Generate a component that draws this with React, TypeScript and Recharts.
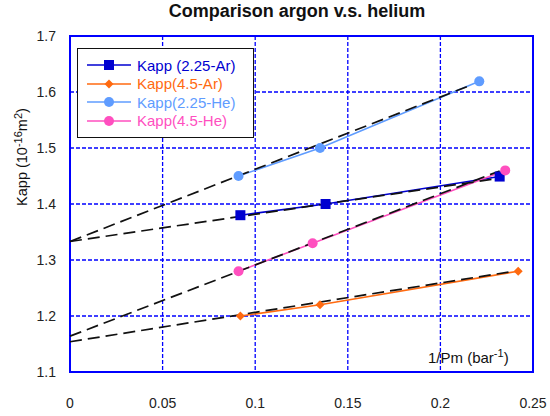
import React from "react";
import {
  ComposedChart,
  Line,
  XAxis,
  YAxis,
  CartesianGrid,
  ReferenceArea,
} from "recharts";

// ---- data ----
const xTicks = [0, 0.05, 0.1, 0.15, 0.2, 0.25];
const yTicks = [1.1, 1.2, 1.3, 1.4, 1.5, 1.6, 1.7];

const ar225X = [0.092, 0.138, 0.232];
const ar225Y = [1.38, 1.4, 1.449];
const ar45X = [0.092, 0.135, 0.242];
const ar45Y = [1.2, 1.22, 1.28];
const he225X = [0.091, 0.135, 0.221];
const he225Y = [1.45, 1.5, 1.619];
const he45X = [0.091, 0.131, 0.235];
const he45Y = [1.28, 1.33, 1.46];

const fitHe225X = [0, 0.217];
const fitHe225Y = [1.333, 1.613];
const fitAr225X = [0, 0.232];
const fitAr225Y = [1.333, 1.446];
const fitHe45X = [0, 0.232];
const fitHe45Y = [1.164, 1.459];
const fitAr45X = [0, 0.238];
const fitAr45Y = [1.154, 1.279];

const toPts = (xs: number[], ys: number[]) => xs.map((x, i) => ({ x, y: ys[i] }));

const C_AR225 = "#0000d0";
const C_AR45 = "#ff6a10";
const C_HE225 = "#5f9cff";
const C_HE45 = "#ff4fbf";
const FONT = "'Liberation Sans', Arial, sans-serif";

type Shape = "square" | "diamond" | "circle";

const drawMarker = (shape: Shape, color: string, cx: number, cy: number, key?: any) => {
  if (shape === "square")
    return <rect key={key} x={cx - 5} y={cy - 5} width={10} height={10} fill={color} />;
  if (shape === "diamond")
    return (
      <polygon
        key={key}
        points={`${cx},${cy - 4.5} ${cx + 4.5},${cy} ${cx},${cy + 4.5} ${cx - 4.5},${cy}`}
        fill={color}
      />
    );
  return <circle key={key} cx={cx} cy={cy} r={5} fill={color} />;
};

const series = [
  { name: "Kapp (2.25-Ar)", color: C_AR225, shape: "square" as Shape, data: toPts(ar225X, ar225Y) },
  { name: "Kapp(4.5-Ar)", color: C_AR45, shape: "diamond" as Shape, data: toPts(ar45X, ar45Y) },
  { name: "Kapp(2.25-He)", color: C_HE225, shape: "circle" as Shape, data: toPts(he225X, he225Y) },
  { name: "Kapp(4.5-He)", color: C_HE45, shape: "circle" as Shape, data: toPts(he45X, he45Y) },
];

const fits = [
  toPts(fitHe225X, fitHe225Y),
  toPts(fitAr225X, fitAr225Y),
  toPts(fitHe45X, fitHe45Y),
  toPts(fitAr45X, fitAr45Y),
];

export default function App() {
  return (
    <div style={{ position: "absolute", left: 0, top: 0, width: 550, height: 416, background: "#fff", fontFamily: FONT }}>
      <ComposedChart width={550} height={416} margin={{ top: 36, right: 17, bottom: 0, left: 30 }}>
        <CartesianGrid stroke="#0000ff" strokeDasharray="4 2" strokeWidth={1.3} horizontalValues={yTicks} verticalValues={xTicks} />
        <XAxis
          dataKey="x"
          type="number"
          domain={[0, 0.25]}
          ticks={xTicks}
          allowDuplicatedCategory={false}
          height={44}
          tickSize={0}
          tickLine={false}
          tickMargin={26}
          axisLine={false}
          tick={{ fill: "#222", fontSize: 14, fontFamily: FONT }}
        />
        <YAxis
          type="number"
          domain={[1.1, 1.7]}
          ticks={yTicks}
          width={40}
          tickSize={0}
          tickLine={false}
          tickMargin={14}
          axisLine={false}
          tick={{ fill: "#222", fontSize: 14, fontFamily: FONT }}
        />
        <ReferenceArea x1={0} x2={0.25} y1={1.1} y2={1.7} fill="none" stroke="#0000ff" strokeWidth={2} fillOpacity={0} />
        {series.map((s) => (
          <Line
            key={s.name}
            data={s.data}
            dataKey="y"
            name={s.name}
            stroke={s.color}
            strokeWidth={1.6}
            isAnimationActive={false}
            dot={(p: any) => drawMarker(s.shape, s.color, p.cx, p.cy, `${s.name}-${p.index}`)}
            activeDot={false}
          />
        ))}
        {fits.map((f, i) => (
          <Line
            key={"fit" + i}
            data={f}
            dataKey="y"
            stroke="#111"
            strokeWidth={1.7}
            strokeDasharray="12 6"
            dot={false}
            activeDot={false}
            legendType="none"
            isAnimationActive={false}
          />
        ))}
      </ComposedChart>

      {/* title */}
      <div style={{ position: "absolute", left: 0, width: 594, top: 1, textAlign: "center", fontWeight: "bold", fontSize: 18, color: "#111" }}>
        Comparison argon v.s. helium
      </div>

      {/* y label */}
      <div
        style={{
          position: "absolute",
          left: 21,
          top: 157,
          transform: "translate(-50%, -50%) rotate(-90deg)",
          whiteSpace: "nowrap",
          fontSize: 14.5,
          color: "#111",
        }}
      >
        Kapp (10<sup style={{ fontSize: 11 }}>-16</sup>m<sup style={{ fontSize: 11 }}>2</sup>)
      </div>

      {/* x label */}
      <div style={{ position: "absolute", left: 428, top: 347, whiteSpace: "nowrap", fontSize: 15, color: "#111" }}>
        1/Pm (bar<sup style={{ fontSize: 11 }}>-1</sup>)
      </div>

      {/* legend */}
      <div
        style={{
          position: "absolute",
          left: 77,
          top: 48,
          width: 175,
          height: 88,
          border: "1.5px solid #111",
          background: "#fff",
        }}
      >
        {series.map((s, i) => (
          <div key={s.name} style={{ position: "absolute", left: 9, top: 7 + i * 18.5, height: 18, display: "flex", alignItems: "center" }}>
            <svg width={46} height={14} style={{ display: "block" }}>
              <line x1={0} y1={7} x2={44} y2={7} stroke={s.color} strokeWidth={1.6} />
              {drawMarker(s.shape, s.color, 22, 7)}
            </svg>
            <span style={{ color: s.color, fontSize: 15, marginLeft: 4, whiteSpace: "nowrap" }}>{s.name}</span>
          </div>
        ))}
      </div>
    </div>
  );
}
